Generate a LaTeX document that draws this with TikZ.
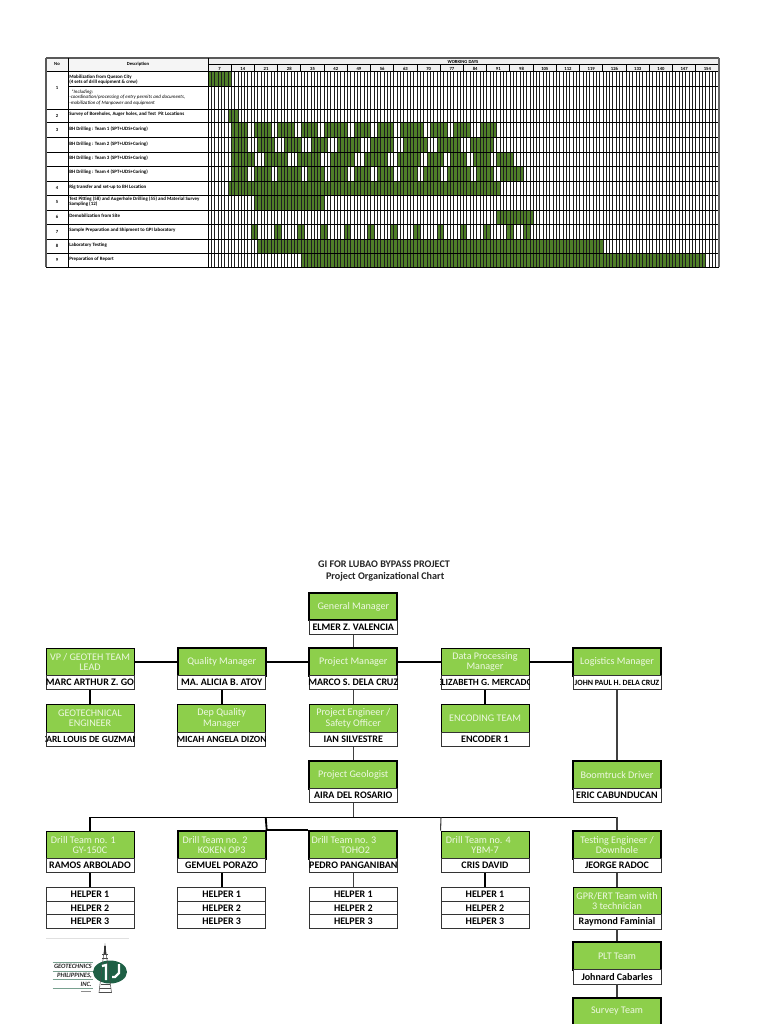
\documentclass[tikz,border=0pt]{standalone}
\usepackage{fontspec}
\setmainfont{Carlito}
\definecolor{bargreen}{HTML}{4F7F28}
\definecolor{boxgreen}{HTML}{8DCF4B}
\definecolor{logogreen}{HTML}{1E6045}
\definecolor{headgrey}{HTML}{EFEFEF}
\definecolor{paletext}{HTML}{EEF8E2}
\tikzset{
  cell/.style={font=\bfseries\fontsize{3.7}{3.9}\selectfont,inner sep=0pt,anchor=west,align=left},
  numcell/.style={font=\bfseries\fontsize{3.5}{4}\selectfont,inner sep=0pt},
  ruleline/.style={line width=0.75pt,black},
  gridline/.style={line width=0.52pt,black!88},
  greenbox/.style={draw=black,fill=boxgreen,minimum width=66pt,minimum height=20.6pt,inner sep=0pt,
     text=paletext,align=center,font=\fontsize{7.6}{7.6}\selectfont,line width=0.7pt},
  heavy/.style={line width=1.5pt},
  namebox/.style={draw=black!80,fill=white,minimum width=66pt,minimum height=10.6pt,inner sep=0pt,line width=0.7pt},
  nametext/.style={inner sep=0pt,font=\bfseries\fontsize{7.5}{9}\selectfont},
  tightname/.style={font=\bfseries\fontsize{7.1}{9}\selectfont},
  helperbox/.style={draw=black!80,fill=white,minimum width=66pt,minimum height=10.3pt,inner sep=0pt,line width=0.7pt,
     font=\bfseries\fontsize{7.5}{9}\selectfont},
  thinlink/.style={line width=0.8pt,black!75},
  thicklink/.style={line width=1.4pt,black},
  logotext/.style={inner sep=0pt,anchor=east,font=\bfseries\itshape\fontsize{4.9}{5}\selectfont,text=black!85},
}
% #1 id, #2 centre x, #3 top y, #4 box style, #5 title, #6 name font extras, #7 person
\newcommand{\orgunit}[7]{%
  \node[greenbox,#4] (#1) at (#2,#3+13.8) {#5};
  \node[namebox] (#1n) at (#2,#3+34.6) {};
  \begin{scope}
    \clip (#1n.south west) rectangle (#1n.north east);
    \node[nametext,#6] at (#1n.center) {#7};
  \end{scope}}
\newcommand{\helpers}[2]{%
  \node[helperbox] (#1h1) at (#2,894.3) {HELPER 1};
  \node[helperbox] (#1h2) at (#2,908) {HELPER 2};
  \node[helperbox] (#1h3) at (#2,921.7) {HELPER 3};}
\begin{document}
\begin{tikzpicture}[x=0.75pt,y=-0.75pt]
\useasboundingbox (0,0) rectangle (768,1024);
\fill[white] (0,0) rectangle (768,1024);
% ---------- Gantt header
\fill[headgrey] (208,58) rectangle (719,65);
\fill[headgrey] (208,65) rectangle (719,72);
\fill[headgrey!60] (46,58) rectangle (208,72);
% ---------- Gantt bars
\newcommand{\bars}[3]{\foreach \a/\b in {#3}{\fill[bargreen] ({208+3.318*\a},#1) rectangle ({208+3.318*\b},#2);}}
\bars{72}{87}{0/7}
\bars{109}{122.5}{6/9}
\bars{122.5}{137}{7/12,14/19,21/26,28/33,35/42,44/49,51/56,58/65,67/72,74/79,82/87}
\bars{137}{152}{7/12,15/20,23/28,31/36,39/46,49/56,59/66,69/76,79/86}
\bars{152}{166}{7/14,17/24,27/34,37/44,47/54,57/64,66/71,73/78,80/85,87/92}
\bars{166}{181}{7/12,14/19,21/28,30/35,37/42,44/49,51/56,58/63,65/70,72/79,81/86,88/95}
\bars{181}{195}{6/88}
\bars{195}{210}{14/35}
\bars{210}{224}{87/98}
\bars{224}{239}{13/15,20/22,27/29,34/36,41/43,48/50,55/57,62/64,69/71,76/78,83/85,90/92,95/97}
\bars{239}{253}{15/119}
\bars{253}{267}{28/150}
% ---------- Gantt day grid
\foreach \d in {0,...,154}{\draw[gridline] ({208+3.318*\d},72) -- ({208+3.318*\d},267);}
\foreach \w [count=\i] in {7,14,...,154}{
  \draw[ruleline] ({208+23.227*\i},65) -- ({208+23.227*\i},72);
  \node[numcell] at ({208+23.227*(\i-0.5)},68.6) {\w};
}
% ---------- Gantt rules
\foreach \y in {72,87,109,122.5,137,152,166,181,195,210,224,239,253,267}{\draw[ruleline] (46,\y) -- (719,\y);}
\draw[line width=0.9pt,black!65] (46,58) -- (719,58);
\draw[ruleline] (208,65) -- (719,65);
\fill[white] (46.4,72.4) rectangle (67.6,108.6);
\draw[line width=0.9pt,black!65] (46,58) -- (46,267);
\draw[ruleline] (68,58) -- (68,267);
\draw[ruleline] (208,58) -- (208,267);
\draw[line width=0.9pt,black!60] (719,58) -- (719,267);
% ---------- Gantt text
\node[numcell] (hno) at (57,64.5) {No};
\node[numcell] (hdesc) at (138,64.5) {Description};
\node[numcell] (hwork) at (463,61.6) {WORKING DAYS};
\foreach \n/\y in {1/88,2/115.7,3/129.5,4/188,5/202.5,6/217,7/231.5,8/246,9/260}{\node[numcell] at (57,\y) {\n};}
\node[cell] at (69,79.5) {Mobilization from Quezon City\\(4 sets of drill equipment \& crew)};
\node[cell,font=\itshape\fontsize{3.7}{3.9}\selectfont] at (69,97.5) {\hspace*{1.5pt}*Including:\\-coordination/processing of entry permits and documents,\\-mobilization of Manpower and equipment};
\node[cell] at (69,114.5) {Survey of Boreholes, Auger holes, and Test\ \ Pit Locations};
\node[cell] at (69,129) {BH Drilling : Team 1 (SPT+UDS+Coring)};
\node[cell] at (69,144) {BH Drilling : Team 2 (SPT+UDS+Coring)};
\node[cell] at (69,158) {BH Drilling : Team 3 (SPT+UDS+Coring)};
\node[cell] at (69,172.5) {BH Drilling : Team 4 (SPT+UDS+Coring)};
\node[cell] at (69,187.5) {Rig transfer and set-up to BH Location};
\node[cell] at (69,201.5) {Test Pitting (58) and Augerhole Drilling (55) and Material Survey\\Sampling (12)};
\node[cell] at (69,215.5) {Demobilization from Site};
\node[cell] at (69,230.5) {Sample Preparation and Shipment to GPI laboratory};
\node[cell] at (69,245) {Laboratory Testing};
\node[cell] at (69,259) {Preparation of Report};
% ---------- Chart title
\node[inner sep=0pt,align=center,font=\bfseries\fontsize{7.6}{8.3}\selectfont,text=black!85] (title) at (384,571)
  {GI FOR LUBAO BYPASS PROJECT\\\ Project Organizational Chart};
% ---------- Organisation boxes
\orgunit{gm}{353.3}{592.8}{heavy}{General Manager}{}{ELMER Z. VALENCIA}
\orgunit{vp}{90}{648}{}{VP / GEOTEH TEAM\\LEAD}{}{MARC ARTHUR Z. GO}
\orgunit{qm}{221.7}{648}{heavy}{Quality Manager}{}{MA. ALICIA B. ATOY}
\orgunit{pm}{353.3}{648}{heavy}{Project Manager}{}{MARCO S. DELA CRUZ}
\orgunit{dp}{485}{648}{}{Data Processing\\Manager}{tightname}{ELIZABETH G. MERCADO}
\orgunit{lm}{617}{648}{heavy}{Logistics Manager}{font=\bfseries\fontsize{6}{7}\selectfont}{JOHN PAUL H. DELA CRUZ}
\orgunit{ge}{90}{704.5}{}{GEOTECHNICAL\\ENGINEER}{tightname}{CARL LOUIS DE GUZMAN}
\orgunit{dq}{221.7}{704.5}{}{Dep Quality\\Manager}{tightname}{MICAH ANGELA DIZON}
\orgunit{pe}{353.3}{704.5}{}{Project Engineer /\\Safety Officer}{}{IAN SILVESTRE}
\orgunit{en}{485}{704.5}{}{ENCODING TEAM}{}{ENCODER 1}
\orgunit{pg}{353.3}{761}{heavy}{Project Geologist}{}{AIRA DEL ROSARIO}
\orgunit{bd}{617}{761}{heavy}{Boomtruck Driver}{}{ERIC CABUNDUCAN}
\orgunit{t1}{90}{831}{}{Drill Team no. 1\hspace*{10pt}\\GY-150C}{}{RAMOS ARBOLADO}
\orgunit{t2}{221.7}{831}{heavy}{Drill Team no. 2\hspace*{10pt}\\KOKEN OP3}{}{GEMUEL PORAZO}
\orgunit{t3}{353.3}{831}{heavy}{Drill Team no. 3\hspace*{14pt}\\\hspace*{3pt}TOHO2}{}{PEDRO PANGANIBAN}
\orgunit{t4}{485}{831}{}{Drill Team no. 4\hspace*{10pt}\\YBM-7}{}{CRIS DAVID}
\orgunit{te}{617}{831}{heavy}{Testing Engineer /\\Downhole}{}{JEORGE RADOC}
\orgunit{gp}{617}{887.3}{}{GPR/ERT Team with\\3 technician}{}{Raymond Faminial}
\orgunit{pl}{617}{942.3}{heavy}{PLT Team}{}{Johnard Cabarles}
\node[greenbox,heavy] (sv) at (617,1011.5) {Survey Team};
\helpers{a}{90}
\helpers{b}{221.7}
\helpers{c}{353.3}
\helpers{d}{485}
% ---------- Connectors
\draw[thinlink] (gmn.south) -- (pm.north);
\draw[thicklink] (vp.east) -- (qm.west);
\draw[thicklink] (qm.east) -- (pm.west);
\draw[thicklink] (pm.east) -- (dp.west);
\draw[thicklink] (dp.east) -- (lm.west);
\draw[thicklink] (vpn.south) -- (ge.north);
\draw[thicklink] (qmn.south) -- (dq.north);
\draw[thinlink] (pmn.south) -- (pe.north);
\draw[thinlink] (pen.south) -- (pg.north);
\draw[thicklink] (dpn.south) -- (en.north);
\draw[thinlink] (lmn.south) -- (bd.north);
\coordinate (busL) at (90,817.3);
\coordinate (busT2) at (265.7,817.3);
\coordinate (busM) at (353.3,817.3);
\coordinate (busT4) at (441,817.3);
\coordinate (busR) at (617,817.3);
\draw[thinlink,black] (busL) -- (busR);
\draw[thinlink] (pgn.south) -- (busM);
\draw[thicklink] (busL) -- (t1.north);
\draw[thicklink] (busT2) -- (t2.north east);
\draw[thicklink] (t2.north east) -- (t3.north west);
\draw[thinlink] (busT4) -- (t4.north west);
\draw[thinlink] (busR) -- (te.north);
\draw[thicklink] (t1n.south) -- (ah1.north);
\draw[thicklink] (t2n.south) -- (bh1.north);
\draw[thinlink] (t3n.south) -- (ch1.north);
\draw[thicklink] (t4n.south) -- (dh1.north);
\draw[thinlink] (ten.south) -- (gp.north);
\draw[thinlink] (gpn.south) -- (pl.north);
\draw[thinlink] (pln.south) -- (sv.north);
% ---------- Logo
\draw[line width=0.7pt,black!12] (46,938.5) -- (129,938.5);
\foreach \y in {962,971.3,979.7,988.7}{\draw[line width=0.5pt,logogreen!60] (52.7,\y) -- (93,\y);}
\node[logotext] (lg1) at (92,966.6) {GEOTECHNICS};
\node[logotext] (lg2) at (92,975.6) {PHILIPPINES,};
\node[logotext] (lg3) at (92,984.4) {INC.};
\draw[line width=0.9pt,black!45] (81,991.5) -- (91,991.5);
\fill[logogreen] (110,972) ellipse [x radius=17,y radius=11.5];
\draw[line width=0.4pt,black!70] (105,945) -- (103.2,958) -- (99,992.5) -- (111.5,992.5) -- (106.8,958) -- cycle;
\draw[line width=0.4pt,black!70] (102,954) -- (108,954) (102,958) -- (108,958) (101,984) -- (110,984) (100,988) -- (111,988);
\draw[line width=1.6pt,black!80] (105,946) -- (105,954);
\draw[line width=1.7pt,white] (102,966) -- (106,965) -- (106,980);
\draw[line width=1.7pt,white] (119,964) -- (119,973) -- (115,977) -- (112,977);
\end{tikzpicture}
\end{document}
